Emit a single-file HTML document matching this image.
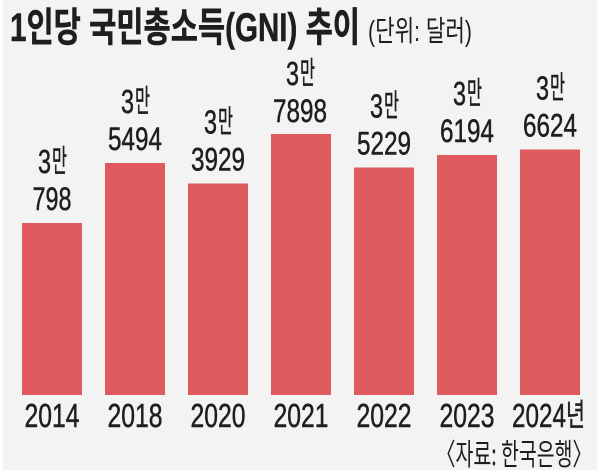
<!DOCTYPE html>
<html><head><meta charset="utf-8">
<style>
html,body{margin:0;padding:0;background:#fff;}
svg{display:block;}
text{fill:#1e1e1e;}
.t{font-family:"Liberation Sans","Noto Sans CJK KR",sans-serif;}
.k{font-family:"Noto Sans CJK KR",sans-serif;}
.s{stroke:#1e1e1e;stroke-width:0.5;}
</style></head>
<body>
<svg width="600" height="474" viewBox="0 0 600 474" xmlns="http://www.w3.org/2000/svg">
<rect x="3" y="0" width="594" height="470" fill="#f3f3f3"/>
<text class="t s" x="10" y="41" font-size="40" font-weight="bold" textLength="350" lengthAdjust="spacingAndGlyphs">1인당 국민총소득(GNI) 추이</text>
<text class="t" x="368" y="41" font-size="29" textLength="104" lengthAdjust="spacingAndGlyphs">(단위: 달러)</text>

<g fill="#df5a5c">
<rect x="22" y="223" width="60" height="172"/>
<rect x="105" y="163" width="60" height="232"/>
<rect x="188" y="183.5" width="60" height="211.5"/>
<rect x="271" y="134" width="60" height="261"/>
<rect x="354" y="167.5" width="60" height="227.5"/>
<rect x="437" y="155" width="60" height="240"/>
<rect x="520" y="149.5" width="60" height="245.5"/>
</g>

<g class="t s" font-size="33">
<text x="38" y="173" textLength="13" lengthAdjust="spacingAndGlyphs">3</text>
<text x="121" y="113" textLength="13" lengthAdjust="spacingAndGlyphs">3</text>
<text x="204" y="133.5" textLength="13" lengthAdjust="spacingAndGlyphs">3</text>
<text x="286" y="85" textLength="13" lengthAdjust="spacingAndGlyphs">3</text>
<text x="370" y="117.5" textLength="13" lengthAdjust="spacingAndGlyphs">3</text>
<text x="453" y="105" textLength="13" lengthAdjust="spacingAndGlyphs">3</text>
<text x="536" y="99.5" textLength="13" lengthAdjust="spacingAndGlyphs">3</text>
</g>
<g class="k s" font-size="31">
<text x="52" y="172" textLength="15" lengthAdjust="spacingAndGlyphs">만</text>
<text x="135" y="112" textLength="15" lengthAdjust="spacingAndGlyphs">만</text>
<text x="218" y="132.5" textLength="15" lengthAdjust="spacingAndGlyphs">만</text>
<text x="300" y="84" textLength="15" lengthAdjust="spacingAndGlyphs">만</text>
<text x="384" y="116.5" textLength="15" lengthAdjust="spacingAndGlyphs">만</text>
<text x="467" y="104" textLength="15" lengthAdjust="spacingAndGlyphs">만</text>
<text x="550" y="98.5" textLength="15" lengthAdjust="spacingAndGlyphs">만</text>
</g>

<g class="t s" font-size="32" text-anchor="middle">
<text x="52" y="210" textLength="39" lengthAdjust="spacingAndGlyphs">798</text>
<text x="135" y="150" textLength="54" lengthAdjust="spacingAndGlyphs">5494</text>
<text x="218" y="170.5" textLength="54" lengthAdjust="spacingAndGlyphs">3929</text>
<text x="300" y="122" textLength="54" lengthAdjust="spacingAndGlyphs">7898</text>
<text x="384" y="154.5" textLength="54" lengthAdjust="spacingAndGlyphs">5229</text>
<text x="467" y="142" textLength="54" lengthAdjust="spacingAndGlyphs">6194</text>
<text x="550" y="136.5" textLength="54" lengthAdjust="spacingAndGlyphs">6624</text>
</g>

<g class="t s" font-size="33" text-anchor="middle">
<text x="52" y="427" textLength="55" lengthAdjust="spacingAndGlyphs">2014</text>
<text x="135" y="427" textLength="55" lengthAdjust="spacingAndGlyphs">2018</text>
<text x="218" y="427" textLength="55" lengthAdjust="spacingAndGlyphs">2020</text>
<text x="301" y="427" textLength="55" lengthAdjust="spacingAndGlyphs">2021</text>
<text x="384" y="427" textLength="55" lengthAdjust="spacingAndGlyphs">2022</text>
<text x="467" y="427" textLength="55" lengthAdjust="spacingAndGlyphs">2023</text>
</g>
<text class="t s" x="512" y="427" font-size="33" textLength="54" lengthAdjust="spacingAndGlyphs">2024</text>
<text class="k s" x="566" y="426" font-size="31" textLength="19" lengthAdjust="spacingAndGlyphs">년</text>

<text class="k" x="592" y="465" font-size="30" text-anchor="end" textLength="156" lengthAdjust="spacingAndGlyphs">〈자료: 한국은행〉</text>
</svg>
</body></html>
